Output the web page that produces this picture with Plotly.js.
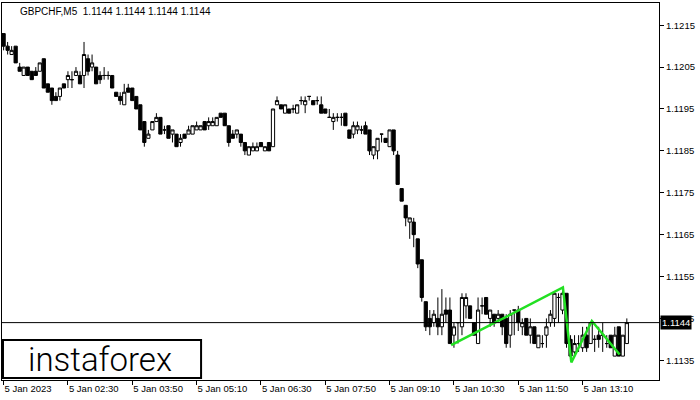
<!DOCTYPE html>
<html>
<head>
<meta charset="utf-8">
<script src="https://cdn.plot.ly/plotly-3.0.1.min.js"></script>
<style>html,body{margin:0;padding:0;background:#fff;}#chart{width:700px;height:400px;}</style>
</head>
<body>
<div id="chart"></div>
<script>
const symbolTitle = 'GBPCHF,M5  1.1144 1.1144 1.1144 1.1144';
const tickIndex = [0, 16, 32, 48, 64, 80, 96, 112, 128, 144];
const tickLabels = ['5 Jan 2023','5 Jan 02:30','5 Jan 03:50','5 Jan 05:10','5 Jan 06:30','5 Jan 07:50','5 Jan 09:10','5 Jan 10:30','5 Jan 11:50','5 Jan 13:10'];
const currentPrice = 1.1144;

const openP = [
1.1213,1.1210,1.1208,1.1210,1.1205,1.1203,1.1205,1.1204,1.1204,1.1204,
1.1207,1.1201,1.1200,1.1198,1.1198,1.1201,1.1202,1.1202,1.1203,1.1203,
1.1203,1.1207,1.1205,1.1205,1.1203,1.1203,1.1203,1.1203,1.1199,1.1198,
1.1196,1.1200,1.1200,1.1198,1.1196,1.1192,1.1188,1.1190,1.1192,1.1193,
1.1190,1.1191,1.1189,1.1189,1.1187,1.1189,1.1189,1.1189,1.1190,1.1190,
1.1192,1.1191,1.1191,1.1191,1.1194,1.1194,1.1191,1.1189,1.1189,1.1189,
1.1187,1.1184,1.1185,1.1185,1.1187,1.1185,1.1187,1.1186,1.1196,1.1196,
1.1194,1.1195,1.1195,1.1194,1.1197,1.1196,1.1198,1.1197,1.1197,1.1196,
1.1195,1.1193,1.1192,1.1193,1.1193,1.1194,1.1190,1.1189,1.1190,1.1190,
1.1191,1.1190,1.1184,1.1185,1.1189,1.1188,1.1186,1.1190,1.1184,1.1176,
1.1172,1.1168,1.1168,1.1164,1.1159,1.1149,1.1145,1.1144,1.1145,1.1143,
1.1147,1.1147,1.1141,1.1144,1.1143,1.1148,1.1148,1.1144,1.1139,1.1148,
1.1150,1.1145,1.1146,1.1145,1.1146,1.1145,1.1141,1.1147,1.1147,1.1143,
1.1145,1.1141,1.1143,1.1138,1.1139,1.1141,1.1144,1.1145,1.1150,1.1147,
1.1151,1.1140,1.1137,1.1139,1.1138,1.1141,1.1139,1.1140,1.1141,1.1141,
1.1139,1.1141,1.1136,1.1143,1.1136,1.1139];
const highP = [
1.1213,1.1211,1.1210,1.1210,1.1206,1.1205,1.1205,1.1204,1.1205,1.1206,
1.1207,1.1201,1.1200,1.1199,1.1200,1.1201,1.1204,1.1204,1.1205,1.1204,
1.1211,1.1208,1.1208,1.1205,1.1204,1.1205,1.1204,1.1203,1.1199,1.1199,
1.1201,1.1201,1.1200,1.1198,1.1196,1.1192,1.1190,1.1192,1.1194,1.1193,
1.1191,1.1191,1.1190,1.1189,1.1189,1.1189,1.1191,1.1191,1.1192,1.1191,
1.1192,1.1193,1.1193,1.1193,1.1194,1.1194,1.1191,1.1190,1.1190,1.1189,
1.1187,1.1186,1.1187,1.1187,1.1187,1.1186,1.1187,1.1195,1.1198,1.1196,
1.1196,1.1195,1.1196,1.1196,1.1198,1.1198,1.1198,1.1197,1.1198,1.1198,
1.1195,1.1195,1.1194,1.1194,1.1194,1.1194,1.1190,1.1192,1.1192,1.1191,
1.1192,1.1190,1.1186,1.1188,1.1189,1.1188,1.1190,1.1190,1.1185,1.1176,
1.1172,1.1169,1.1169,1.1164,1.1159,1.1149,1.1147,1.1147,1.1150,1.1152,
1.1150,1.1150,1.1144,1.1144,1.1151,1.1151,1.1148,1.1144,1.1150,1.1150,
1.1150,1.1147,1.1146,1.1147,1.1146,1.1146,1.1147,1.1147,1.1148,1.1145,
1.1145,1.1145,1.1143,1.1141,1.1141,1.1145,1.1147,1.1151,1.1151,1.1152,
1.1151,1.1141,1.1141,1.1141,1.1143,1.1143,1.1144,1.1141,1.1143,1.1144,
1.1141,1.1141,1.1143,1.1143,1.1141,1.1145];
const lowP = [
1.1209,1.1208,1.1208,1.1206,1.1204,1.1203,1.1203,1.1202,1.1203,1.1204,
1.1200,1.1199,1.1196,1.1197,1.1197,1.1200,1.1200,1.1200,1.1203,1.1201,
1.1200,1.1203,1.1204,1.1201,1.1201,1.1202,1.1202,1.1200,1.1198,1.1196,
1.1196,1.1199,1.1197,1.1195,1.1190,1.1186,1.1188,1.1190,1.1192,1.1189,
1.1189,1.1188,1.1187,1.1186,1.1186,1.1188,1.1189,1.1189,1.1190,1.1190,
1.1190,1.1190,1.1191,1.1191,1.1193,1.1191,1.1186,1.1188,1.1188,1.1186,
1.1184,1.1184,1.1185,1.1185,1.1186,1.1185,1.1185,1.1186,1.1196,1.1195,
1.1194,1.1194,1.1194,1.1194,1.1196,1.1194,1.1197,1.1196,1.1196,1.1194,
1.1194,1.1193,1.1190,1.1192,1.1191,1.1191,1.1188,1.1188,1.1189,1.1189,
1.1189,1.1184,1.1183,1.1183,1.1187,1.1187,1.1186,1.1184,1.1177,1.1173,
1.1167,1.1164,1.1162,1.1157,1.1149,1.1142,1.1141,1.1143,1.1141,1.1141,
1.1144,1.1139,1.1138,1.1139,1.1141,1.1145,1.1145,1.1141,1.1139,1.1146,
1.1146,1.1143,1.1143,1.1144,1.1141,1.1138,1.1138,1.1141,1.1142,1.1141,
1.1141,1.1139,1.1139,1.1138,1.1138,1.1138,1.1143,1.1143,1.1144,1.1146,
1.1138,1.1135,1.1136,1.1137,1.1137,1.1137,1.1139,1.1137,1.1138,1.1137,
1.1138,1.1138,1.1136,1.1136,1.1136,1.1139];
const closeP = [
1.1210,1.1209,1.1209,1.1206,1.1204,1.1205,1.1203,1.1202,1.1203,1.1206,
1.1200,1.1199,1.1197,1.1197,1.1200,1.1200,1.1203,1.1202,1.1204,1.1201,
1.1208,1.1204,1.1206,1.1201,1.1202,1.1203,1.1203,1.1200,1.1198,1.1197,
1.1199,1.1199,1.1197,1.1195,1.1190,1.1187,1.1189,1.1192,1.1193,1.1189,
1.1190,1.1188,1.1190,1.1186,1.1188,1.1188,1.1190,1.1191,1.1191,1.1191,
1.1190,1.1192,1.1192,1.1193,1.1193,1.1191,1.1187,1.1188,1.1190,1.1187,
1.1185,1.1186,1.1186,1.1186,1.1186,1.1186,1.1185,1.1195,1.1197,1.1195,
1.1196,1.1194,1.1195,1.1196,1.1197,1.1197,1.1198,1.1196,1.1197,1.1194,
1.1194,1.1193,1.1193,1.1193,1.1193,1.1191,1.1188,1.1191,1.1191,1.1190,
1.1189,1.1185,1.1186,1.1188,1.1189,1.1187,1.1190,1.1185,1.1177,1.1173,
1.1169,1.1169,1.1165,1.1158,1.1150,1.1143,1.1143,1.1146,1.1143,1.1146,
1.1146,1.1139,1.1143,1.1144,1.1150,1.1150,1.1145,1.1141,1.1147,1.1148,
1.1146,1.1147,1.1144,1.1146,1.1143,1.1139,1.1146,1.1147,1.1144,1.1144,
1.1141,1.1143,1.1139,1.1141,1.1139,1.1143,1.1146,1.1151,1.1150,1.1151,
1.1139,1.1136,1.1139,1.1139,1.1141,1.1138,1.1144,1.1140,1.1140,1.1141,
1.1139,1.1138,1.1141,1.1136,1.1141,1.1144];

// detected pattern (green polyline)
const patternBar = [111.3, 139.1, 141.2, 146.3, 153.2];
const patternPrice = [1.11386, 1.11524, 1.11345, 1.11444, 1.11364];

const barIndex = openP.map((_, i) => i);
const yTicks = [1.1135,1.1145,1.1155,1.1165,1.1175,1.1185,1.1195,1.1205,1.1215];

const FONT = 'Liberation Sans, Arial, sans-serif';

const traces = [
  {
    type: 'candlestick',
    x: barIndex, open: openP, high: highP, low: lowP, close: closeP,
    increasing: {line: {color: '#000', width: 1}, fillcolor: '#fff'},
    decreasing: {line: {color: '#000', width: 1}, fillcolor: '#000'},
    whiskerwidth: 0,
    hoverinfo: 'skip',
    showlegend: false
  },
  {
    type: 'scatter', mode: 'lines',
    x: patternBar, y: patternPrice,
    line: {color: '#22e022', width: 2.5},
    hoverinfo: 'skip', showlegend: false
  }
];

const layout = {
  width: 700, height: 400,
  margin: {l: 2, r: 41, t: 3, b: 20, pad: 0},
  paper_bgcolor: '#fff', plot_bgcolor: '#fff',
  showlegend: false,
  boxgap: 0.2, boxgroupgap: 0,
  font: {family: FONT, size: 9.5, color: '#000'},
  xaxis: {
    type: 'linear',
    range: [-0.4, 163],
    rangeslider: {visible: false},
    showgrid: false, zeroline: false,
    showline: true, mirror: true, linecolor: '#000', linewidth: 1,
    ticks: 'outside', ticklen: 4, tickcolor: '#000', tickwidth: 1,
    tickmode: 'array', tickvals: tickIndex, ticktext: tickLabels,
    ticklabelposition: 'outside right',
    tickfont: {family: FONT, size: 9.5, color: '#000'},
    fixedrange: true
  },
  yaxis: {
    side: 'right',
    range: [1.11303, 1.12203],
    showgrid: false, zeroline: false,
    showline: true, mirror: true, linecolor: '#000', linewidth: 1,
    ticks: 'outside', ticklen: 4, tickcolor: '#000', tickwidth: 1,
    tickmode: 'array', tickvals: yTicks, ticktext: yTicks.map(v => v.toFixed(4)),
    tickfont: {family: FONT, size: 9.5, color: '#000'},
    fixedrange: true
  },
  shapes: [
    {type: 'line', xref: 'paper', x0: 0, x1: 1, yref: 'y', y0: currentPrice, y1: currentPrice,
     line: {color: '#000', width: 1}},
    {type: 'rect', xref: 'paper', yref: 'paper', x0: 0.0015, x1: 0.303, y0: 0.0053, y1: 0.106,
     line: {color: '#000', width: 2}, fillcolor: '#fff', layer: 'above'}
  ],
  annotations: [
    {xref: 'paper', yref: 'paper', x: 0.0245, y: 0.9775, xanchor: 'left', yanchor: 'middle',
     text: symbolTitle, showarrow: false, font: {family: FONT, size: 10, color: '#000'}},
    {xref: 'paper', yref: 'y', x: 1, y: currentPrice, xanchor: 'left', yanchor: 'middle', xshift: 1,
     text: currentPrice.toFixed(4), showarrow: false, bgcolor: '#000', borderpad: 1,
     font: {family: FONT, size: 9.5, color: '#fff'}},
    {xref: 'paper', yref: 'paper', x: 0.149, y: 0.0557, xanchor: 'center', yanchor: 'middle',
     text: 'instaforex', showarrow: false,
     font: {family: 'Roboto, sans-serif', size: 33, weight: 300, color: '#000'}}
  ]
};

Plotly.newPlot('chart', traces, layout, {staticPlot: true, displayModeBar: false});
</script>
</body>
</html>
